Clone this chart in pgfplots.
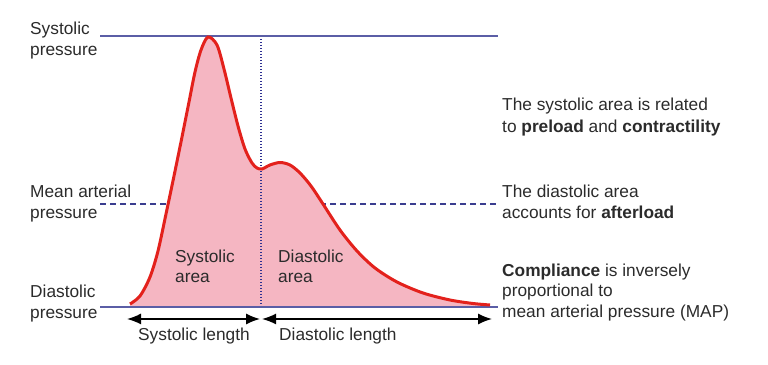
\documentclass[border=0pt]{standalone}
\usepackage{pgfplots}
\pgfplotsset{compat=1.18}
\usepackage{fontspec}
\setmainfont{Liberation Sans}
\usetikzlibrary{arrows.meta}
\definecolor{curvered}{HTML}{E3211C}
\definecolor{fillpink}{HTML}{F5B6C2}
\definecolor{refblue}{HTML}{5B5EA6}
\definecolor{dashblue}{HTML}{3A3D8F}
\definecolor{dotblue}{HTML}{2E3192}
\definecolor{txt}{HTML}{2B2B2B}
\pgfplotstableread{
x y
130 3
140 11
150 30
158 56
166 93
174 131
182 170
189 205
195 235
201 257
208 270
217 262
224 238
231 209
238 181
245 158
252 144
257 139
262 138
270 142
280 144.5
290 142
300 134
311 121
323 103
340 77
357 56
375 39
397 25
423 14
450 7
473 3.5
490 2
}\curvedata
\begin{document}
\begin{tikzpicture}[lbl/.style={anchor=base west, font=\fontsize{17.3bp}{21bp}\selectfont, text=txt, inner sep=0pt}]
\begin{axis}[
  width=768bp, height=365bp, scale only axis,
  xmin=0, xmax=768, ymin=-58, ymax=307,
  hide axis, clip=false,
]
\path (axis cs:0,-58) rectangle (axis cs:768,307);
% mean arterial pressure (dashed, behind fill)
\addplot[dashblue, line width=1.8bp, dash pattern=on 6bp off 4bp] coordinates {(100,103) (498,103)};
% curve fill
\addplot[fill=fillpink, draw=none, smooth, tension=0.5] table[x=x,y=y] {\curvedata} \closedcycle;
% vertical dotted
\addplot[dotblue, line width=1.2bp, dash pattern=on 1.5bp off 1.5bp] coordinates {(261,271) (261,0)};
% systolic and diastolic lines
\addplot[refblue, line width=1.5bp] coordinates {(100,271) (498,271)};
\addplot[refblue, line width=1.5bp] coordinates {(100,0) (498,0)};
% curve outline
\addplot[curvered, line width=3bp, smooth, tension=0.5] table[x=x,y=y] {\curvedata};
% arrows
\addplot[black, line width=1.5bp, {Latex[length=14bp,width=11bp]}-{Latex[length=14bp,width=11bp]}] coordinates {(127,-12) (260,-12)};
\addplot[black, line width=1.5bp, {Latex[length=14bp,width=11bp]}-{Latex[length=14bp,width=11bp]}] coordinates {(262,-12) (492,-12)};
% left labels
\node[lbl] at (axis cs:30,272) {Systolic};
\node[lbl] at (axis cs:30,251) {pressure};
\node[lbl] at (axis cs:30,109) {Mean arterial};
\node[lbl] at (axis cs:30,88) {pressure};
\node[lbl] at (axis cs:30,9) {Diastolic};
\node[lbl] at (axis cs:30,-12) {pressure};
% area labels
\node[lbl] at (axis cs:175,44) {Systolic};
\node[lbl] at (axis cs:175,24) {area};
\node[lbl] at (axis cs:278,44) {Diastolic};
\node[lbl] at (axis cs:278,24) {area};
% length labels
\node[lbl] at (axis cs:138,-33) {Systolic length};
\node[lbl] at (axis cs:279,-33) {Diastolic length};
% right text
\node[lbl] at (axis cs:502,196) {The systolic area is related};
\node[lbl] at (axis cs:502,174) {to \textbf{preload} and \textbf{contractility}};
\node[lbl] at (axis cs:502,109) {The diastolic area};
\node[lbl] at (axis cs:502,88) {accounts for \textbf{afterload}};
\node[lbl] at (axis cs:502,30) {\textbf{Compliance} is inversely};
\node[lbl] at (axis cs:502,10) {proportional to};
\node[lbl] at (axis cs:502,-11) {mean arterial pressure (MAP)};
\end{axis}
\end{tikzpicture}
\end{document}
